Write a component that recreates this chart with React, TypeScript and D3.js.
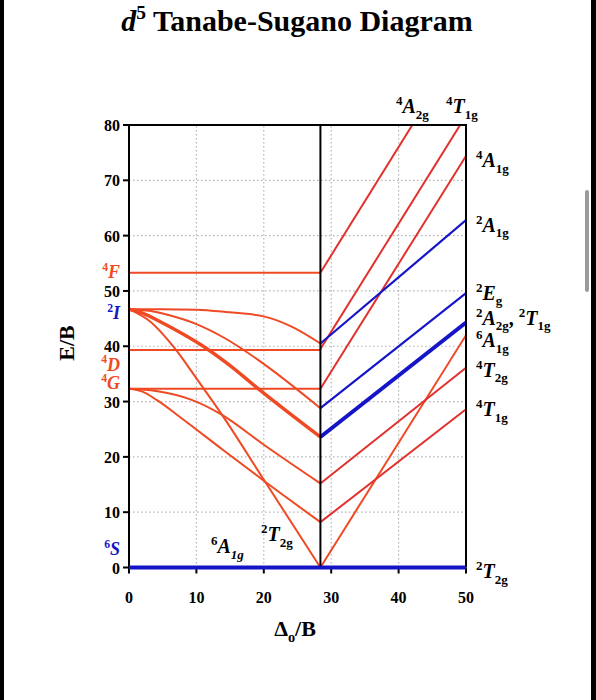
import * as d3 from 'd3';
import React from 'react';

// Tanabe-Sugano diagram for a d5 ion.
const DELTA_MAX = 50;
const E_MAX = 80;
const CROSSOVER = 28.4;

const xTicks = [0, 10, 20, 30, 40, 50];
const yTicks = [0, 10, 20, 30, 40, 50, 60, 70, 80];

// weak field side, [Δo/B, E/B]
const sextetGround = [[0, 0], [50, 0]];
const quartetF = [[0, 53.3], [28.4, 53.3]];
const quartetD = [[0, 39.3], [28.4, 39.3]];
const quartetG = [[0, 32.3], [28.4, 32.3]];
const gToT2g = [[0, 32.3], [4, 31.9], [9.3, 30.3], [13.8, 27.6], [20, 22.2], [28.4, 15.2]];
const gToT1g = [[0, 32.3], [2, 31.8], [4.1, 30.3], [8, 26.8], [14, 21.2], [20.2, 15.5], [28.4, 8.2]];
const iToA1g = [[0, 46.7], [5, 46.7], [10, 46.6], [14.3, 46.2], [20, 45.4], [24.2, 43.5], [28.4, 40.5]];
const iToEg = [[0, 46.7], [3, 46.4], [6, 45.6], [10, 44], [14.3, 41.4], [19.2, 37.5], [28.4, 28.8]];
const iToA2gT1g = [[0, 46.7], [2, 46], [5, 44.2], [8, 42.2], [11.5, 39.6], [15, 36.5], [19.2, 32.3], [28.4, 23.6]];
const iToT2g = [[0, 46.7], [3, 44.6], [6.8, 39.6], [10, 34.2], [13.8, 27.6], [20.2, 15.5], [28.4, 0]];

// strong field side: E/B at the crossover and at Δo/B = 50
const strongA2g = [53.3, 95.6];
const strongT1gTop = [39.5, 81.7];
const strongA1g = [32.3, 74.4];
const strongDoubletA1g = [40.5, 62.8];
const strongDoubletEg = [28.8, 49.6];
const strongA2gT1g = [23.6, 44.3];
const strongSextetA1g = [0, 42];
const strongT2g = [15.2, 36.1];
const strongT1g = [8.2, 28.6];

const RED = '#e2302e';
const ORANGE = '#ef4a24';
const BLUE = '#1515c8';
const SERIF = '"Liberation Serif", "Times New Roman", serif';

type Part = [string, 'n' | 'i' | 'sup' | 'sub' | 'subi'];

function Label({ x, y, parts, size, fill = '#000', anchor = 'start' }: {
  x: number; y: number; parts: Part[]; size: number; fill?: string; anchor?: string;
}) {
  let shift = 0;
  return (
    <text x={x} y={y} fontSize={size} fontWeight="bold" fill={fill} textAnchor={anchor} fontFamily={SERIF}>
      {parts.map(([t, k], i) => {
        const small = k === 'sup' || k === 'sub' || k === 'subi';
        const target = k === 'sup' ? -0.4 * size : small ? 0.28 * size : 0;
        const dy = target - shift;
        shift = target;
        return (
          <tspan key={i} dy={dy} fontSize={small ? size * 0.65 : size}
            fontStyle={k === 'i' || k === 'subi' ? 'italic' : 'normal'}>{t}</tspan>
        );
      })}
    </text>
  );
}

const App = () => {
  const x = d3.scaleLinear().domain([0, DELTA_MAX]).range([129, 466]);
  const y = d3.scaleLinear().domain([0, E_MAX]).range([567.5, 125]);
  const curve = d3.line<number[]>().x((d) => x(d[0])).y((d) => y(d[1])).curve(d3.curveMonotoneX);
  const straight = d3.line<number[]>().x((d) => x(d[0])).y((d) => y(d[1]));

  const weak = [
    { pts: quartetF, color: ORANGE, w: 2 },
    { pts: quartetD, color: ORANGE, w: 2 },
    { pts: quartetG, color: ORANGE, w: 2 },
    { pts: gToT2g, color: ORANGE, w: 2 },
    { pts: gToT1g, color: ORANGE, w: 2 },
    { pts: iToA1g, color: ORANGE, w: 2 },
    { pts: iToEg, color: ORANGE, w: 2 },
    { pts: iToA2gT1g, color: ORANGE, w: 3.4 },
    { pts: iToT2g, color: ORANGE, w: 2 },
  ];
  const strong = [
    { v: strongA2g, color: RED, w: 2 },
    { v: strongT1gTop, color: RED, w: 2 },
    { v: strongA1g, color: RED, w: 2 },
    { v: strongSextetA1g, color: ORANGE, w: 2 },
    { v: strongT2g, color: RED, w: 2 },
    { v: strongT1g, color: RED, w: 2 },
    { v: strongDoubletA1g, color: BLUE, w: 2.2 },
    { v: strongDoubletEg, color: BLUE, w: 2.2 },
    { v: strongA2gT1g, color: BLUE, w: 4 },
  ];

  const rightX = 476;
  const rightLabels: { e: number; parts: Part[] }[] = [
    { e: 72.4, parts: [['4', 'sup'], ['A', 'i'], ['1g', 'sub']] },
    { e: 60.7, parts: [['2', 'sup'], ['A', 'i'], ['1g', 'sub']] },
    { e: 48.4, parts: [['2', 'sup'], ['E', 'i'], ['g', 'sub']] },
    { e: 43.9, parts: [['2', 'sup'], ['A', 'i'], ['2g', 'sub'], [', ', 'n'], ['2', 'sup'], ['T', 'i'], ['1g', 'sub']] },
    { e: 39.8, parts: [['6', 'sup'], ['A', 'i'], ['1g', 'sub']] },
    { e: 34.5, parts: [['4', 'sup'], ['T', 'i'], ['2g', 'sub']] },
    { e: 27.3, parts: [['4', 'sup'], ['T', 'i'], ['1g', 'sub']] },
    { e: -1.9, parts: [['2', 'sup'], ['T', 'i'], ['2g', 'sub']] },
  ];
  const leftLabels: { e: number; parts: Part[]; fill: string }[] = [
    { e: 52.3, parts: [['4', 'sup'], ['F', 'i']], fill: ORANGE },
    { e: 44.9, parts: [['2', 'sup'], ['I', 'i']], fill: BLUE },
    { e: 35.6, parts: [['4', 'sup'], ['D', 'i']], fill: ORANGE },
    { e: 32.3, parts: [['4', 'sup'], ['G', 'i']], fill: ORANGE },
    { e: 2.3, parts: [['6', 'sup'], ['S', 'i']], fill: BLUE },
  ];

  return (
    <svg width={596} height={700} style={{ position: 'absolute', left: 0, top: 0, background: '#fff' }}>
      <defs>
        <clipPath id="plot">
          <rect x={x(0)} y={y(E_MAX)} width={x(DELTA_MAX) - x(0)} height={y(0) - y(E_MAX) + 4} />
        </clipPath>
      </defs>
      <rect x={0} y={0} width={4} height={700} fill="#000" />
      <rect x={591} y={0} width={5} height={700} fill="#000" />
      <rect x={585} y={190} width={4} height={102} rx={2} fill="#9a9a9a" />

      <Label x={297} y={31} size={30} anchor="middle"
        parts={[['d', 'i'], ['5', 'sup'], [' Tanabe-Sugano Diagram', 'n']]} />

      {/* grid */}
      <g stroke="#b4b4b4" strokeWidth={1.2} strokeDasharray="1.5,2.5">
        {xTicks.slice(1, -1).map((t) => (
          <line key={'gx' + t} x1={x(t)} x2={x(t)} y1={y(0)} y2={y(E_MAX)} />
        ))}
        {yTicks.slice(1, -1).map((t) => (
          <line key={'gy' + t} x1={x(0)} x2={x(DELTA_MAX)} y1={y(t)} y2={y(t)} />
        ))}
      </g>

      <g clipPath="url(#plot)" fill="none">
        {weak.map((s, i) => (
          <path key={'w' + i} d={curve(s.pts) || ''} stroke={s.color} strokeWidth={s.w} />
        ))}
        {strong.map((s, i) => (
          <path key={'s' + i} d={straight([[CROSSOVER, s.v[0]], [DELTA_MAX, s.v[1]]]) || ''}
            stroke={s.color} strokeWidth={s.w} />
        ))}
      </g>

      {/* frame and axes */}
      <g stroke="#000" strokeWidth={2} fill="none">
        <line x1={x(0)} x2={x(0)} y1={y(0)} y2={y(E_MAX)} />
        <line x1={x(0) - 1} x2={x(DELTA_MAX) + 1} y1={y(E_MAX)} y2={y(E_MAX)} />
        <line x1={x(DELTA_MAX)} x2={x(DELTA_MAX)} y1={y(0)} y2={y(E_MAX)} />
        <line x1={x(0)} x2={x(DELTA_MAX)} y1={y(0)} y2={y(0)} />
        <line x1={x(CROSSOVER)} x2={x(CROSSOVER)} y1={y(0)} y2={y(E_MAX)} />
        {yTicks.map((t) => (
          <line key={'ty' + t} x1={x(0) - 6} x2={x(0)} y1={y(t)} y2={y(t)} />
        ))}
        {xTicks.map((t) => (
          <line key={'tx' + t} x1={x(t)} x2={x(t)} y1={y(0)} y2={y(0) + 6} />
        ))}
      </g>
      <path d={straight(sextetGround) || ''} stroke={BLUE} strokeWidth={4} fill="none" />

      {/* tick labels */}
      <g fontFamily={SERIF} fontWeight="bold" fontSize={16}>
        {yTicks.map((t) => (
          <text key={'ly' + t} x={x(0) - 9} y={y(t) + 6} textAnchor="end">{t}</text>
        ))}
        {xTicks.map((t) => (
          <text key={'lx' + t} x={x(t)} y={603} textAnchor="middle">{t}</text>
        ))}
      </g>

      <text transform="translate(74,343) rotate(-90)" textAnchor="middle" fontFamily={SERIF}
        fontWeight="bold" fontSize={22}>E/B</text>
      <Label x={295} y={636} size={22} anchor="middle" parts={[['Δ', 'n'], ['o', 'sub'], ['/B', 'n']]} />

      {leftLabels.map((l, i) => (
        <Label key={'ll' + i} x={120} y={y(l.e)} size={18} fill={l.fill} anchor="end" parts={l.parts} />
      ))}
      {rightLabels.map((l, i) => (
        <Label key={'rl' + i} x={rightX} y={y(l.e)} size={20} parts={l.parts} />
      ))}
      <Label x={396} y={113} size={20} parts={[['4', 'sup'], ['A', 'i'], ['2g', 'sub']]} />
      <Label x={446} y={113} size={20} parts={[['4', 'sup'], ['T', 'i'], ['1g', 'sub']]} />
      <Label x={211} y={553} size={20} parts={[['6', 'sup'], ['A', 'i'], ['1g', 'subi']]} />
      <Label x={261} y={541} size={20} parts={[['2', 'sup'], ['T', 'i'], ['2g', 'sub']]} />
    </svg>
  );
};

export default App;
